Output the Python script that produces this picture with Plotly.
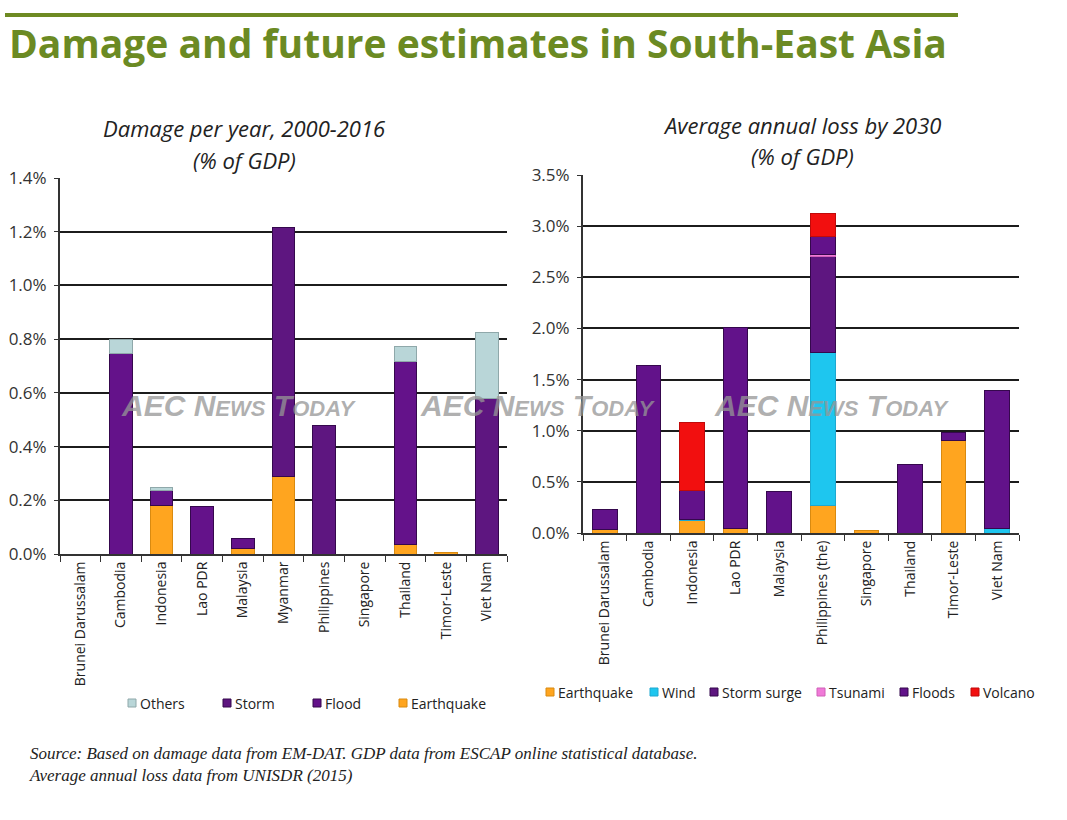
import plotly.graph_objects as go

# ---------------- data ----------------
countries_left = ["Brunei Darussalam", "Cambodia", "Indonesia", "Lao PDR", "Malaysia",
                  "Myanmar", "Philippines", "Singapore", "Thailand", "Timor-Leste", "Viet Nam"]
earthquake_left = [0, 0, 0.18, 0, 0.02, 0.287, 0, 0, 0.034, 0.004, 0]
flood_left = [0, 0.745, 0.056, 0.176, 0.036, 0, 0, 0, 0.681, 0, 0]
storm_left = [0, 0, 0, 0, 0, 0.927, 0.48, 0, 0, 0, 0.578]
others_left = [0, 0.052, 0.011, 0, 0, 0, 0, 0, 0.056, 0, 0.245]

countries_right = ["Brunei Darussalam", "Cambodia", "Indonesia", "Lao PDR", "Malaysia",
                   "Philippines (the)", "Singapore", "Thailand", "Timor-Leste", "Viet Nam"]
earthquake_right = [0.03, 0, 0.125, 0.04, 0, 0.265, 0.02, 0, 0.905, 0]
wind_right = [0, 0, 0.01, 0, 0, 1.495, 0, 0, 0, 0.04]
surge_right = [0, 0, 0, 0, 0, 0.94, 0, 0, 0, 0]
tsunami_right = [0, 0, 0, 0, 0, 0.02, 0, 0, 0, 0]
floods_right = [0.20, 1.64, 0.28, 1.97, 0.41, 0.18, 0, 0.67, 0.075, 1.35]
volcano_right = [0, 0, 0.665, 0, 0, 0.22, 0, 0, 0, 0]

W, H = 1067, 820
def px(x): return x / W
def py(y): return 1 - y / H

def nz(vals):
    return [v if v else None for v in vals]

fig = go.Figure()

COL = {
    "Earthquake": ("#ffa51f", "#d98a10"),
    "Flood": ("#64128a", "#35084d"),
    "Storm": ("#5e1680", "#35084d"),
    "Others": ("#b9d6d8", "#8fa8aa"),
    "Wind": ("#1ec6ef", "#1ea8d0"),
    "Storm surge": ("#5e1680", "#35084d"),
    "Tsunami": ("#f07ad8", "#d060b8"),
    "Floods": ("#62128a", "#35084d"),
    "Volcano": ("#f20f0f", "#c00a0a"),
}

left_series = [("Earthquake", earthquake_left), ("Flood", flood_left),
               ("Storm", storm_left), ("Others", others_left)]
for name, vals in left_series:
    col, lc = COL[name]
    fig.add_trace(go.Bar(x=countries_left, y=nz(vals), name=name, marker_color=col,
                         marker_line_color=lc, marker_line_width=1,
                         xaxis="x", yaxis="y", showlegend=False))

right_series = [("Earthquake", earthquake_right), ("Wind", wind_right),
                ("Storm surge", surge_right), ("Tsunami", tsunami_right),
                ("Floods", floods_right), ("Volcano", volcano_right)]
for name, vals in right_series:
    col, lc = COL[name]
    fig.add_trace(go.Bar(x=countries_right, y=nz(vals), name=name, marker_color=col,
                         marker_line_color=lc, marker_line_width=1,
                         xaxis="x2", yaxis="y2", showlegend=False))

tickfont = dict(family="Open Sans", size=14, color="#222")
yfont = dict(family="Open Sans", size=17, color="#333")

common_x = dict(type="category", tickangle=-90, tickson="boundaries", ticks="outside",
                ticklen=6, tickcolor="#333", showline=True, linecolor="#333", linewidth=2,
                tickfont=tickfont, showgrid=False, automargin=False)
common_y = dict(tickformat=".1f", ticksuffix="%", showgrid=True, gridcolor="#1c1c1c",
                gridwidth=2, showline=True, linecolor="#333", linewidth=2, ticks="outside",
                ticklen=4, tickcolor="#333", tickfont=yfont, zeroline=False, automargin=False,
                ticklabelstandoff=4)

fig.update_layout(
    width=W, height=H,
    margin=dict(l=0, r=0, t=0, b=0, autoexpand=False),
    paper_bgcolor="white", plot_bgcolor="white",
    barmode="stack", bargap=0.44,
    font=dict(family="Open Sans", color="#222"),
    xaxis=dict(domain=[px(60), px(507)], anchor="y", **common_x),
    yaxis=dict(domain=[py(554), py(178)], anchor="x", range=[0, 1.4], dtick=0.2, **common_y),
    xaxis2=dict(domain=[px(583), px(1019)], anchor="y2", **common_x),
    yaxis2=dict(domain=[py(533), py(175)], anchor="x2", range=[0, 3.5], dtick=0.5, **common_y),
    showlegend=False,
)

shapes = [dict(type="line", xref="paper", yref="paper", x0=px(5), x1=px(958),
               y0=py(15), y1=py(15), line=dict(color="#6e8a22", width=4))]

annotations = [
    dict(text="<b>Damage and future estimates in South-East Asia</b>", x=px(7), y=py(42),
         xanchor="left", yanchor="middle",
         font=dict(family="Open Sans", size=39, color="#6b8a23")),
    dict(text="<i>Damage per year, 2000-2016</i>", x=px(244), y=py(128), xanchor="center",
         yanchor="middle", font=dict(family="Open Sans", size=22, color="#222")),
    dict(text="<i>(% of GDP)</i>", x=px(244), y=py(160), xanchor="center",
         yanchor="middle", font=dict(family="Open Sans", size=22, color="#222")),
    dict(text="<i>Average annual loss by 2030</i>", x=px(802), y=py(125), xanchor="center",
         yanchor="middle", font=dict(family="Open Sans", size=22, color="#222")),
    dict(text="<i>(% of GDP)</i>", x=px(802), y=py(156), xanchor="center",
         yanchor="middle", font=dict(family="Open Sans", size=22, color="#222")),
    dict(text="<i>Source: Based on damage data from EM-DAT. GDP data from ESCAP online statistical database.<br>"
              "Average annual loss data from UNISDR (2015)</i>", x=px(27), y=py(764),
         xanchor="left", yanchor="middle", align="left",
         font=dict(family="Liberation Serif", size=17, color="#222")),
]
wm = "<b><i>AEC N<span style='font-size:22px'>EWS</span> T<span style='font-size:22px'>ODAY</span></i></b>"
for cx in (238, 537, 831):
    annotations.append(dict(text=wm, x=px(cx), y=py(405), xanchor="center", yanchor="middle",
                            font=dict(family="Liberation Sans", size=30, color="rgba(150,150,150,0.75)")))

# legends (drawn as key squares + labels), in reference order
legend_left = [("Others", 128), ("Storm", 223), ("Flood", 313), ("Earthquake", 399)]
legend_right = [("Earthquake", 546), ("Wind", 650), ("Storm surge", 710),
                ("Tsunami", 817), ("Floods", 900), ("Volcano", 971)]
for items, ycen in ((legend_left, 703), (legend_right, 692)):
    for name, x0 in items:
        col, lc = COL[name]
        shapes.append(dict(type="rect", xref="paper", yref="paper",
                           x0=px(x0), x1=px(x0 + 8), y0=py(ycen + 4), y1=py(ycen - 4),
                           fillcolor=col, line=dict(color=lc, width=1)))
        annotations.append(dict(text=name, x=px(x0 + 10), y=py(ycen), xanchor="left",
                                yanchor="middle",
                                font=dict(family="Open Sans", size=14, color="#222")))

for a in annotations:
    a.update(xref="paper", yref="paper", showarrow=False)
fig.update_layout(annotations=annotations, shapes=shapes)

fig.write_html("out.html")
